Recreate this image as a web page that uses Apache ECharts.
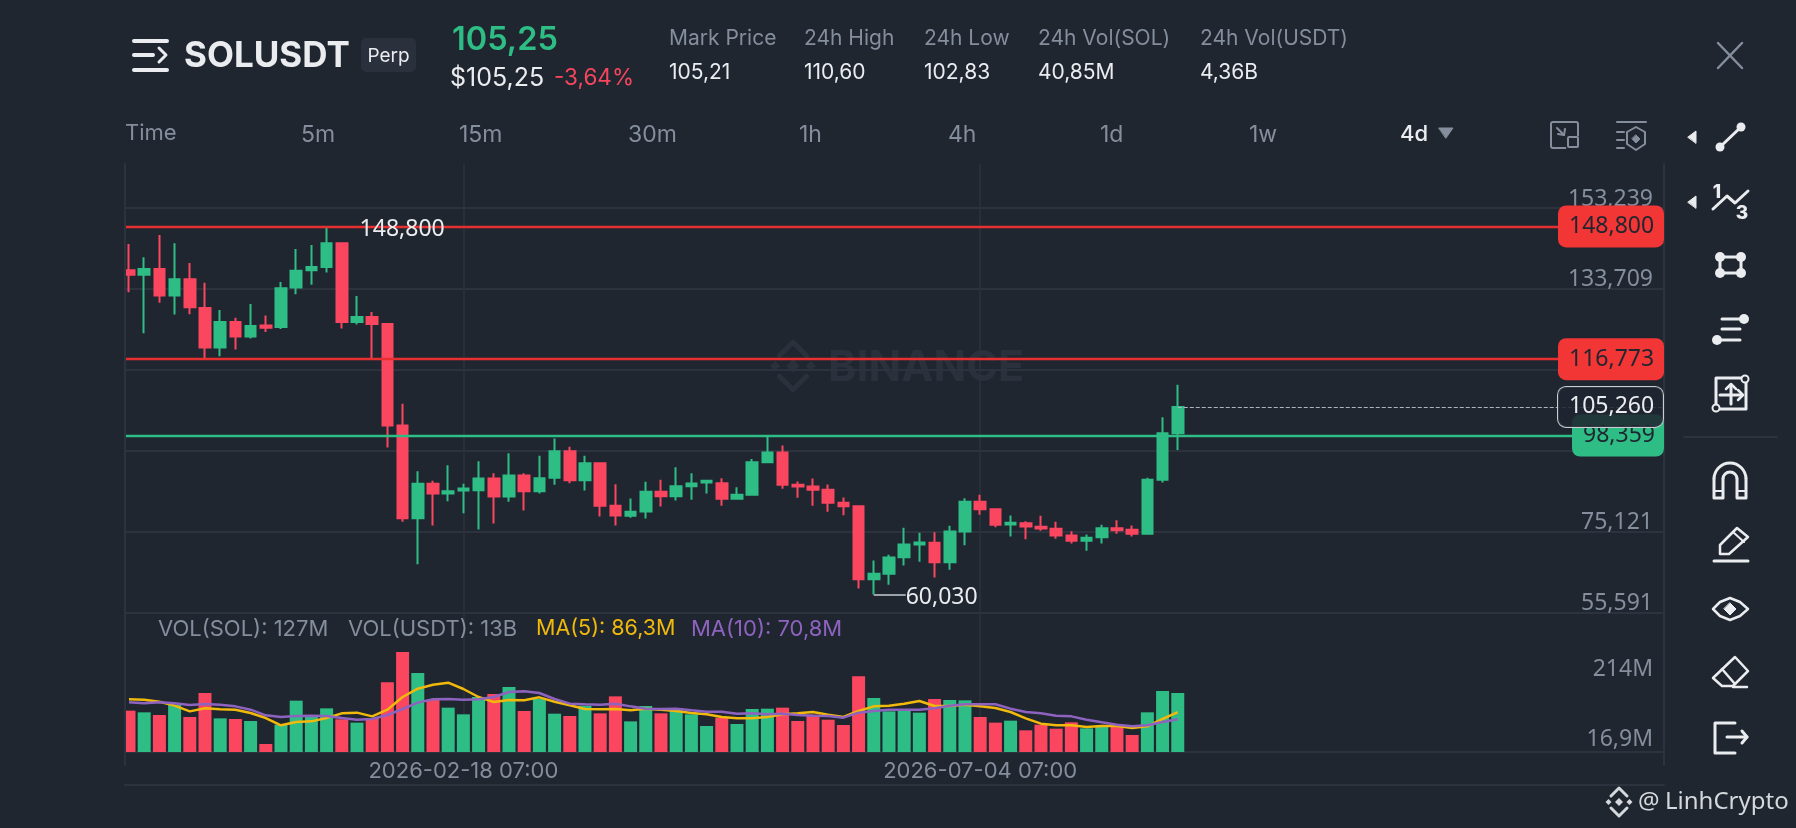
<!DOCTYPE html>
<html><head><meta charset="utf-8">
<style>html,body{margin:0;padding:0;background:#1f2630}#c{width:1796px;height:828px}</style>
<script src="https://cdn.jsdelivr.net/npm/echarts@6/dist/echarts.min.js"></script>
</head><body><div id="c"></div>
<script>
const open  = [138.21,137.16,138.53,132.10,136.04,129.13,119.56,125.75,122.21,124.87,124.54,134.03,138.21,139.01,144.72,125.75,126.96,125.27,100.76,78.42,86.70,84.37,85.09,85.17,87.98,83.64,88.71,84.93,88.14,94.57,87.58,91.68,81.39,78.98,80.03,84.77,83.72,86.13,87.02,86.86,83.08,84.04,91.92,94.25,86.46,86.05,85.25,82.12,81.31,63.71,65.00,69.02,72.07,72.47,67.81,75.20,82.36,80.59,76.89,77.21,76.33,75.85,74.24,72.95,73.84,76.01,75.60,74.64,87.66,98.91];
const close = [137.16,138.53,132.10,136.04,129.29,119.56,125.75,122.21,124.79,124.38,133.87,138.13,139.01,144.72,125.75,126.96,125.27,100.76,78.42,86.70,84.37,84.93,85.57,87.98,83.64,88.71,84.93,88.06,94.57,87.58,91.68,81.39,79.06,79.95,84.77,83.72,86.13,86.78,87.42,83.08,84.04,91.92,94.25,86.46,86.05,85.25,82.12,81.31,63.71,65.00,68.94,72.07,72.55,67.81,75.20,82.36,80.59,76.81,77.29,76.41,75.93,74.24,72.95,73.68,76.01,75.53,74.64,87.66,98.91,105.26];
const low   = [132.90,123.00,130.41,127.52,127.60,116.75,117.47,119.08,121.73,123.34,124.06,132.42,134.75,137.65,124.14,125.11,116.75,95.46,77.53,67.33,76.65,82.52,79.63,75.69,77.13,82.36,80.27,84.37,86.46,86.86,85.09,78.82,76.65,78.50,78.34,81.23,82.68,82.84,84.37,81.39,83.08,84.04,91.76,85.49,83.32,81.39,79.95,79.14,61.46,60.03,62.35,67.01,67.89,64.11,65.96,71.91,79.22,76.25,74.00,73.36,75.37,73.44,72.31,70.54,72.31,74.64,74.00,74.40,87.02,94.89];
const high  = [144.56,141.34,146.73,144.72,139.98,135.23,128.64,126.79,130.09,127.28,135.39,143.35,144.32,148.80,144.88,132.02,128.16,125.43,105.99,89.75,87.42,91.20,86.70,92.16,89.27,94.09,89.27,93.45,97.63,95.62,93.45,91.92,86.62,83.16,87.18,87.66,90.72,89.27,87.45,88.06,85.89,92.72,98.35,95.94,87.26,87.98,86.54,83.40,81.40,68.21,69.58,76.09,74.88,75.04,76.57,83.24,84.04,80.83,79.06,77.70,78.98,77.53,75.28,74.48,76.81,77.94,76.65,88.14,102.77,110.60];
const volume = [89.3,85.7,79.9,102.2,75.6,127.4,72.7,71.3,67.0,17.3,59.0,110.9,75.6,94.3,70.6,63.4,73.4,150.5,216.0,170.6,113.0,95.8,81.4,118.8,125.3,140.4,88.6,114.5,82.8,77.8,100.1,83.5,120.2,66.2,99.4,83.5,93.6,81.4,56.2,74.2,60.5,92.9,93.6,95.8,67.0,80.6,69.8,58.3,163.4,116.6,87.8,91.4,85.0,114.5,112.3,111.6,75.6,63.4,67.7,46.8,59.0,50.4,64.1,51.1,55.4,55.4,36.7,85.7,131.8,127.4];
const ma5 = [113.8,113.0,108.7,100.1,87.8,94.3,92.2,91.4,84.2,73.4,57.6,64.8,66.2,73.4,83.5,85.0,77.0,91.4,118.8,136.8,145.4,149.8,136.1,118.8,108.0,112.3,111.6,118.1,108.7,100.8,92.9,92.2,92.9,90.0,93.6,91.4,88.6,84.2,81.4,75.6,72.7,72.7,75.6,81.4,83.5,86.4,80.6,75.6,88.6,98.6,100.1,104.4,110.2,99.4,99.4,102.2,98.6,95.0,86.4,72.7,61.2,57.6,57.6,54.0,56.2,56.2,51.8,55.4,71.3,86.3];
const ma10 = [107.3,105.1,107.3,105.1,101.5,103.7,102.2,98.6,91.4,79.2,75.6,77.8,78.5,77.8,73.4,69.8,71.3,79.9,92.9,106.6,113.8,114.5,113.0,113.8,118.8,129.6,131.0,127.4,114.5,104.4,103.0,102.2,104.4,98.6,93.6,92.9,93.6,90.0,87.1,87.1,82.8,83.5,81.4,82.8,79.9,78.5,77.8,74.2,85.0,88.6,91.4,91.4,91.4,94.3,100.1,103.0,103.0,103.0,93.6,86.4,83.5,78.5,77.0,69.8,64.1,59.0,55.4,57.6,64.8,70.8];
const priceTicks = [55.591,75.121,94.651,114.18,133.709,153.239];
const priceTickLabels = {55.591:'55,591',75.121:'75,121',133.709:'133,709',153.239:'153,239'};
const volTicks = [16.9,214];
const volTickLabels = {16.9:'16,9M',214:'214M'};
const xTicks = [22,56];
const xTickLabels = {22:'2026-02-18 07:00',56:'2026-07-04 07:00'};
const levels = [[148.8,'#e5302f','#f23535','148,800'],[116.773,'#e5302f','#f23535','116,773'],[98.359,'#2ebd85','#2ebd85','98,359']];
const lastPrice = 105.26;

const BG='#1f2630', GRID='#2c323e', UP='#2ebd85', DOWN='#fb4660', GREY='#848e9c', WHITE='#eaecef', FONT='Inter,sans-serif', FONT2='"Noto Sans",sans-serif';
const X_MIN=-0.263, X_MAX=100.99;

const candle = open.map((o,i)=>[i,o,close[i],low[i],high[i]]);
const vols = volume.map((v,i)=>({value:[i,v],itemStyle:{color:close[i]>=open[i]?UP:DOWN}}));
const levelLines = levels.map(l=>[
 {xAxis:X_MIN,yAxis:l[0],lineStyle:{color:l[1],width:2.4,type:'solid'},
  label:{show:true,position:'end',distance:l[3].length>6?-106:-92,formatter:l[3],color:BG,fontFamily:FONT2,fontSize:23,
   backgroundColor:l[2],borderRadius:8,padding:[9,12,7,11],width:l[3].length>6?83:69,height:26,lineHeight:26,align:'left'}},
 {xAxis:X_MAX,yAxis:l[0]}]);
const lastLine = [
 {xAxis:69,yAxis:lastPrice,lineStyle:{color:'#aeb4bc',width:1,type:'dashed'},
  label:{show:true,position:'end',distance:-106,formatter:'105,260',color:WHITE,fontFamily:FONT2,fontSize:23,
   backgroundColor:'rgba(31,38,48,0.88)',borderColor:'#c9ccd1',borderWidth:1,borderRadius:8,padding:[8,11,6,11],width:83,height:26,lineHeight:26,align:'left'}},
 {xAxis:X_MAX,yAxis:lastPrice}];
const lowConn = [
 {xAxis:49,yAxis:low[49],lineStyle:{color:'#c9ccd1',width:1.5,type:'solid'},label:{show:false}},
 {xAxis:51.1,yAxis:low[49]}];

const gfx=[];
const T=(x,y,text,size,fill,o={})=>gfx.push({type:'text',x,y,z:20,silent:true,style:Object.assign({text,fontSize:size,fontFamily:o.f||FONT,fill,fontWeight:o.w||'normal',align:o.a||'left',verticalAlign:'middle'},o.s||{})});
const L=(x1,y1,x2,y2,c,w=3,z=20)=>gfx.push({type:'line',z,silent:true,shape:{x1,y1,x2,y2},style:{stroke:c,lineWidth:w,lineCap:'round'}});
const C=(cx,cy,r,f,s,w)=>gfx.push({type:'circle',z:21,silent:true,shape:{cx,cy,r},style:{fill:f,stroke:s||null,lineWidth:w||0}});
const P=(points,s,w=3,f=null)=>gfx.push({type:f==='open'?'polyline':'polygon',z:21,silent:true,shape:{points},style:{stroke:s,fill:f==='open'?null:f,lineWidth:w,lineJoin:'round',lineCap:'round'}});
const R=(x,y,width,height,r,f,s,w,z=19)=>gfx.push({type:'rect',z,silent:true,shape:{x,y,width,height,r},style:{fill:f,stroke:s||null,lineWidth:w||0}});
const A=(cx,cy,r,a0,a1,s,w)=>gfx.push({type:'arc',z:21,silent:true,shape:{cx,cy,r,startAngle:a0,endAngle:a1,clockwise:true},style:{stroke:s,fill:null,lineWidth:w}});

// left mask so the first candle is cut at the plot edge, then frame
R(100,164,24,601,0,BG);
L(125,164,125,765,GRID,2);L(1664,164,1664,765,GRID,2,0);L(125,785,1664,785,GRID,2,0);
// centre watermark
const wm=(cx,cy,k,c,z)=>{const d=(x,y,r)=>P([[x,y-r],[x+r,y],[x,y+r],[x-r,y]],c,0,c);
 const n0=gfx.length;
 d(cx,cy,4*k);d(cx-10.5*k,cy,3*k);d(cx+10.5*k,cy,3*k);
 P([[cx-8*k,cy-6*k],[cx,cy-14*k],[cx+8*k,cy-6*k]],c,3*k,'open');
 P([[cx-8*k,cy+6*k],[cx,cy+14*k],[cx+8*k,cy+6*k]],c,3*k,'open');
 if(z!=null) for(let i=n0;i<gfx.length;i++) gfx[i].z=z;};
wm(793,366,1.7,'#2b313c',0);
T(828,368,'BINANCE',43,'#2b313c',{w:'bold'});gfx[gfx.length-1].z=0;
// header
L(134,41,167,41,WHITE,4);L(134,55,153,55,WHITE,4);L(134,70,167,70,WHITE,4);
P([[159,48],[166,55],[159,62]],WHITE,3,'open');
T(184,56,'SOLUSDT',35,WHITE,{w:'bold'});
R(361,38,55,34,5,'#2b313c');
T(388.5,56,'Perp',19,WHITE,{a:'center'});
T(452,40,'105,25',32.5,UP,{w:'600'});
T(450,78,'$105,25',25,WHITE);
T(554,78,'-3,64%',22.5,'#f6465d');
const stats=[[669,'Mark Price','105,21'],[804,'24h High','110,60'],[924,'24h Low','102,83'],[1038,'24h Vol(SOL)','40,85M'],[1200,'24h Vol(USDT)','4,36B']];
stats.forEach(s=>{T(s[0],39,s[1],21,GREY);T(s[0],73,s[2],21,WHITE);});
L(1718,43,1742,68,GREY,2.5);L(1742,43,1718,68,GREY,2.5);
// interval row
T(125,133,'Time',22,GREY);
[[301,'5m'],[459,'15m'],[628,'30m'],[799,'1h'],[948,'4h'],[1100,'1d'],[1249,'1w']].forEach(a=>T(a[0],135,a[1],23,GREY));
T(1400,134,'4d',22,WHITE,{w:'500'});
P([[1439,128],[1453,128],[1446,138]],GREY,1,GREY);
// small icons
R(1551,122,27,26,2,null,GREY,2);R(1566,136,14,14,2,BG,BG,0,21);R(1568,137,10,10,1,BG,GREY,2,22);
L(1557,128,1564,135,GREY,2);P([[1558,134],[1564,135],[1565,129]],GREY,2,'open');
L(1617,122,1646,122,GREY,2);L(1617,132,1624,132,GREY,2);L(1617,140,1624,140,GREY,2);L(1617,148,1624,148,GREY,2);
P([[1636,127],[1645,132],[1645,144],[1636,150],[1627,144],[1627,132]],GREY,2);
P([[1636,135],[1640,139],[1636,143],[1632,139]],GREY,1,GREY);
// tool column
P([[1688,137],[1696,131],[1696,143]],WHITE,1,WHITE);
L(1720,147,1741,127,WHITE,3);C(1720,147,4.5,WHITE);C(1741,127,4.5,WHITE);
P([[1688,202],[1696,196],[1696,208]],WHITE,1,WHITE);
P([[1713,209],[1727,196],[1735,203],[1748,191]],WHITE,3,'open');
T(1717,192,'1',19,WHITE,{a:'center',w:'800'});T(1742,213,'3',19,WHITE,{a:'center',w:'800'});
L(1720,257,1741,257,WHITE,3);L(1720,273,1741,273,WHITE,3);L(1720,257,1720,273,WHITE,3);L(1741,257,1741,273,WHITE,3);
[[1720,257],[1741,257],[1720,273],[1741,273]].forEach(p=>C(p[0],p[1],5,WHITE));
L(1722,319,1744,319,WHITE,3);C(1744,319,5,WHITE);L(1722,329,1740,329,WHITE,3);L(1717,340,1740,340,WHITE,3);C(1717,340,5,WHITE);
P([[1716,378],[1746,378],[1746,409],[1716,409]],WHITE,3);
C(1745,379,3.5,BG,WHITE,2);C(1716,408,3.5,BG,WHITE,2);
L(1731,385,1731,404,WHITE,3);L(1720,395,1742,395,WHITE,3);
P([[1726,389],[1731,384],[1736,389]],WHITE,2.5,'open');P([[1738,390],[1743,395],[1738,400]],WHITE,2.5,'open');
L(1684,437,1777,437,GRID,2);
// magnet
A(1730,479,16,Math.PI,Math.PI*2,WHITE,3);A(1730,479,7,Math.PI,Math.PI*2,WHITE,3);
P([[1714,479],[1714,498],[1723,498],[1723,479]],WHITE,3,'open');P([[1746,479],[1746,498],[1737,498],[1737,479]],WHITE,3,'open');
L(1714,491,1723,491,WHITE,2);L(1737,491,1746,491,WHITE,2);
// pencil
L(1714,561,1748,561,WHITE,3);
P([[1720,554],[1720,545],[1737,528],[1748,537],[1729,554]],WHITE,2.5);L(1733,532,1744,542,WHITE,2);
// eye
P([[1713,609],[1720,602],[1730,598],[1740,602],[1748,609],[1740,616],[1730,620],[1720,616]],WHITE,2.5);
P([[1730,603],[1736,609],[1730,615],[1724,609]],WHITE,1,WHITE);
// eraser
P([[1735,657],[1748,671],[1733,686],[1722,686],[1713,678]],WHITE,2.5);L(1722,669,1735,684,WHITE,2.5);L(1733,687,1747,687,WHITE,2.5);
// exit
P([[1735,723],[1715,723],[1715,753],[1735,753]],WHITE,3,'open');L(1727,737,1747,737,WHITE,3);P([[1742,731],[1747,737],[1742,743]],WHITE,3,'open');
// author mark
wm(1619,802,1,'#d5d8dc');
T(1638,802,'@',24,'#d5d8dc',{f:FONT2});T(1665,802,'LinhCrypto',24,'#d5d8dc',{f:FONT2});
// volume legend
T(158,629,'VOL(SOL): 127M',22,GREY);T(348,629,'VOL(USDT): 13B',22,GREY);T(536,629,'MA(5): 86,3M',21.5,'#f0b90b');T(691,629,'MA(10): 70,8M',22,'#8e63c0');

const grayAxisLabel={color:GREY,fontFamily:FONT2,fontSize:23,lineHeight:18};
const option={
 animation:false,backgroundColor:BG,
 grid:[{left:125,width:1539,top:164,height:448.8},{left:125,width:1539,top:612.8,height:139.2}],
 xAxis:[
  {type:'value',gridIndex:0,min:X_MIN,max:X_MAX,axisLine:{show:false},axisTick:{show:false,customValues:xTicks},axisLabel:{show:false,customValues:xTicks},splitLine:{show:true,lineStyle:{color:GRID,width:1.5}}},
  {type:'value',gridIndex:1,min:X_MIN,max:X_MAX,axisLine:{show:true,onZero:false,lineStyle:{color:GRID,width:2}},axisTick:{show:false,customValues:xTicks},
   axisLabel:{show:true,customValues:xTicks,color:GREY,fontFamily:FONT,fontSize:22,margin:8,formatter:v=>xTickLabels[v]||''},splitLine:{show:true,lineStyle:{color:GRID,width:1.5}}}
 ],
 yAxis:[
  {type:'value',gridIndex:0,position:'right',min:55.591,max:163.85,axisLine:{show:false},axisTick:{show:false,customValues:priceTicks},
   axisLabel:Object.assign({},grayAxisLabel,{inside:true,customValues:priceTicks,margin:11,verticalAlign:'bottom',align:'right',formatter:v=>priceTickLabels[v]||''}),
   splitLine:{show:true,lineStyle:{color:GRID,width:2}}},
  {type:'value',gridIndex:1,min:0,max:300.7,axisLine:{show:false},axisTick:{show:false},axisLabel:{show:false},splitLine:{show:false}},
  {type:'value',gridIndex:1,position:'right',min:7,max:399,axisLine:{show:false},axisTick:{show:false,customValues:volTicks},
   axisLabel:Object.assign({},grayAxisLabel,{inside:true,customValues:volTicks,margin:11,verticalAlign:'bottom',align:'right',formatter:v=>volTickLabels[v]||''}),splitLine:{show:false}}
 ],
 graphic:gfx,
 series:[
  {type:'candlestick',xAxisIndex:0,yAxisIndex:0,data:candle,barWidth:11,clip:true,
   itemStyle:{color:UP,color0:DOWN,borderColor:UP,borderColor0:DOWN,borderWidth:2},
   markLine:{silent:true,symbol:'none',animation:false,data:[...levelLines,lastLine,lowConn]},
   markPoint:{silent:true,symbol:'circle',symbolSize:0,animation:false,data:[
     {coord:[13,148.8],value:'148,800',label:{show:true,position:'right',distance:33,offset:[0,3],formatter:'148,800',color:WHITE,fontFamily:FONT2,fontSize:23}},
     {coord:[51.1,low[49]],value:'60,030',label:{show:true,position:'right',distance:0,offset:[0,3],formatter:'60,030',color:WHITE,fontFamily:FONT2,fontSize:23}}]}},
  {type:'bar',xAxisIndex:1,yAxisIndex:1,data:vols,barWidth:13},
  {type:'line',xAxisIndex:1,yAxisIndex:1,data:ma5.map((v,i)=>[i,v]),showSymbol:false,lineStyle:{color:'#f0b90b',width:2.5},z:4},
  {type:'line',xAxisIndex:1,yAxisIndex:1,data:ma10.map((v,i)=>[i,v]),showSymbol:false,lineStyle:{color:'#8e63c0',width:2.5},z:5}
 ]
};
echarts.init(document.getElementById('c'),null,{renderer:'canvas'}).setOption(option);
</script></body></html>
